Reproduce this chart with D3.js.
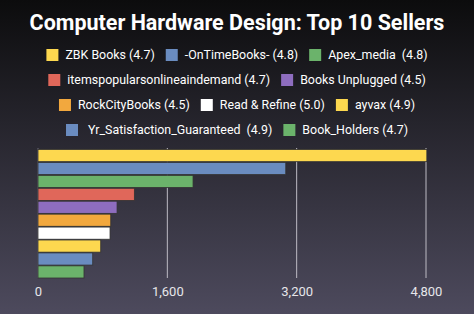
<!DOCTYPE html>
<html>
    <head>
        <script src="https://cdn.jsdelivr.net/npm/d3@7"></script>
        <style>
            html, body { margin:0; padding:0; }
            body { width:474px; height:314px; overflow:hidden; font-family:Roboto, "Noto Sans", sans-serif; }
        </style>
    </head>
    <body>
        <svg id="chart" width="474" height="314"></svg>
        <script>
            // data
            var sellers = ["ZBK Books", "-OnTimeBooks-", "Apex_media ", "itemspopularsonlineaindemand", "Books Unplugged",
                           "RockCityBooks", "Read & Refine", "ayvax", " Yr_Satisfaction_Guaranteed ", "Book_Holders"];
            var ratings = ["4.7", "4.8", "4.8", "4.7", "4.5", "4.5", "5.0", "4.9", "4.9", "4.7"];
            var sales = [4810, 3065, 1918, 1192, 978, 900, 891, 776, 677, 569];
            var colors = ["#fdd84f", "#6a8cc0", "#6bb36b", "#e0675a", "#8e6dbf", "#f2a83e", "#ffffff", "#fdd84f", "#6a8cc0", "#6bb36b"];
            var tickValues = [0, 1600, 3200, 4800];

            var W = 474, H = 314;
            var svg = d3.select("#chart");

            var grad = svg.append("defs").append("linearGradient")
                .attr("id", "bg").attr("x1", 0).attr("y1", 0).attr("x2", 0).attr("y2", 1);
            grad.append("stop").attr("offset", "0%").attr("stop-color", "#0c0c0d");
            grad.append("stop").attr("offset", "100%").attr("stop-color", "#4d4a5d");
            svg.append("rect").attr("width", W).attr("height", H).attr("fill", "url(#bg)");

            svg.append("text")
                .attr("x", W / 2).attr("y", 29.5)
                .attr("text-anchor", "middle")
                .attr("fill", "#ffffff")
                .style("font-size", "21.5px").style("font-weight", "bold")
                .text("Computer Hardware Design: Top 10 Sellers");

            // legend, wrapped into centred rows
            var legend = svg.append("g");
            var items = legend.selectAll("g.item").data(sellers).enter().append("g").attr("class", "item");
            items.append("rect").attr("width", 12).attr("height", 12).attr("y", -6)
                .attr("fill", function(d, i) { return colors[i]; });
            items.append("text")
                .attr("x", 19).attr("dy", "0.35em")
                .attr("fill", "#ffffff")
                .attr("xml:space", "preserve")
                .style("font-size", "12.4px").style("white-space", "pre")
                .text(function(d, i) { return d + " (" + ratings[i] + ")"; });

            var maxRow = 392, gap = 11, rows = [[]], rowW = [0];
            items.each(function(d, i) {
                var w = 19 + this.querySelector("text").getComputedTextLength();
                var r = rows.length - 1;
                var add = rows[r].length ? gap + w : w;
                if (rowW[r] + add > maxRow && rows[r].length) {
                    rows.push([]); rowW.push(0); r++; add = w;
                }
                rows[r].push({ node: this, w: w });
                rowW[r] += add;
            });
            rows.forEach(function(row, r) {
                var x = (W - rowW[r]) / 2;
                row.forEach(function(it) {
                    d3.select(it.node).attr("transform", "translate(" + x + "," + (55 + r * 25) + ")");
                    x += it.w + gap;
                });
            });

            var x = d3.scaleLinear().domain([0, 4800]).range([38, 426]);
            var y = d3.scaleBand().domain(sellers).range([149.5, 278]).paddingInner(0.06);

            svg.append("g").selectAll("line").data(tickValues).enter().append("line")
                .attr("x1", function(d) { return x(d); }).attr("x2", function(d) { return x(d); })
                .attr("y1", 148).attr("y2", 278)
                .attr("stroke", function(d) { return d === 0 ? "#6d6b78" : "#bdbbc4"; })
                .attr("stroke-width", 1);

            svg.append("g").selectAll("rect").data(sales).enter().append("rect")
                .attr("x", x(0))
                .attr("y", function(d, i) { return y(sellers[i]); })
                .attr("width", function(d) { return x(d) - x(0); })
                .attr("height", y.bandwidth())
                .attr("fill", function(d, i) { return colors[i]; })
                .attr("stroke", "#333333").attr("stroke-width", 0.8);

            var axis = svg.append("g")
                .attr("transform", "translate(0,280)")
                .call(d3.axisBottom(x).tickValues(tickValues).tickSize(0).tickPadding(7).tickFormat(d3.format(",")));
            axis.select(".domain").remove();
            axis.selectAll("text").attr("fill", "#e6e6ea").style("font-size", "13px").style("font-family", "Roboto, sans-serif");
        </script>
    </body>
</html>
